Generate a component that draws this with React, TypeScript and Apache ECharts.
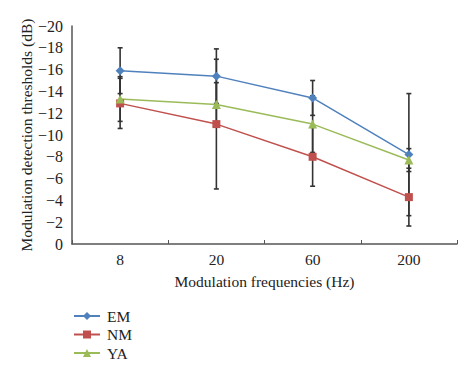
import React, { useEffect, useRef } from "react";
import * as echarts from "echarts";

const categories = ["8", "20", "60", "200"];
const emValues = [-15.9, -15.4, -13.4, -8.2];
const nmValues = [-12.9, -11.0, -8.0, -4.3];
const yaValues = [-13.3, -12.8, -11.0, -7.7];
const emErr = [2.1, 2.5, 1.6, 5.6];
const nmErr = [2.3, 5.95, 2.7, 2.65];
const yaErr = [2.05, 2.0, 2.6, 1.05];

const FONT = "Liberation Serif";

function errData(vals: number[], errs: number[]) {
  return vals.map((v, i) => [i, v - errs[i], v + errs[i]]);
}

export default function App() {
  const ref = useRef<HTMLDivElement>(null);
  useEffect(() => {
    if (!ref.current) return;
    const chart = echarts.init(ref.current, undefined, { renderer: "svg" });
    const errSeries = (name: string, vals: number[], errs: number[]) => ({
      type: "custom",
      name: name + "_err",
      z: 1,
      silent: true,
      data: errData(vals, errs),
      renderItem: (params: any, api: any) => {
        const x = api.value(0);
        const lo = api.coord([x, api.value(1)]);
        const hi = api.coord([x, api.value(2)]);
        const cw = 2.5;
        const style = { stroke: "#333", lineWidth: 1.6 };
        return {
          type: "group",
          children: [
            { type: "line", shape: { x1: lo[0], y1: lo[1], x2: hi[0], y2: hi[1] }, style },
            { type: "line", shape: { x1: lo[0] - cw, y1: lo[1], x2: lo[0] + cw, y2: lo[1] }, style },
            { type: "line", shape: { x1: hi[0] - cw, y1: hi[1], x2: hi[0] + cw, y2: hi[1] }, style },
          ],
        };
      },
    });
    const lineSeries = (name: string, vals: number[], color: string, symbol: string, size: number) => ({
      type: "line",
      name,
      z: 3,
      data: vals,
      symbol,
      symbolSize: size,
      showSymbol: true,
      itemStyle: { color },
      lineStyle: { color, width: 1.5 },
    });
    chart.setOption({
      animation: false,
      textStyle: { fontFamily: FONT },
      grid: { left: 72, right: 17, top: 26, bottom: 136, containLabel: false },
      legend: {
        orient: "vertical",
        left: 68,
        top: 303,
        itemWidth: 26,
        itemHeight: 10,
        itemGap: 2.5,
        data: ["EM", "NM", "YA"],
        textStyle: { fontFamily: FONT, fontSize: 15.5, color: "#222", padding: [0, 0, 0, 2] },
      },
      xAxis: {
        type: "category",
        data: categories,
        boundaryGap: true,
        name: "Modulation frequencies (Hz)",
        nameLocation: "middle",
        nameGap: 29,
        nameTextStyle: { fontFamily: FONT, fontSize: 15.5, color: "#222" },
        axisLine: { lineStyle: { color: "#555", width: 1.5 } },
        axisTick: { show: true, inside: true, length: 4, lineStyle: { color: "#555" } },
        axisLabel: { fontFamily: FONT, fontSize: 15.5, color: "#222", margin: 7 },
        splitLine: { show: false },
      },
      yAxis: {
        type: "value",
        min: -20,
        max: 0,
        interval: 2,
        inverse: true,
        name: "Modulation detection thresholds (dB)",
        nameLocation: "middle",
        nameGap: 38,
        nameMoveOverlap: false,
        nameRotate: 90,
        nameTextStyle: { fontFamily: FONT, fontSize: 15.5, color: "#222" },
        axisLine: { show: true, lineStyle: { color: "#555", width: 1.5 } },
        axisTick: { show: false },
        axisLabel: {
          fontFamily: FONT,
          fontSize: 16,
          color: "#222",
          margin: 9,
          formatter: (v: number) => String(v).replace("-", "\u2212"),
        },
        splitLine: { show: false },
      },
      series: [
        errSeries("EM", emValues, emErr),
        errSeries("NM", nmValues, nmErr),
        errSeries("YA", yaValues, yaErr),
        lineSeries("EM", emValues, "#4f81bd", "diamond", 9),
        lineSeries("NM", nmValues, "#c0504d", "rect", 8),
        lineSeries("YA", yaValues, "#9bbb59", "triangle", 9),
      ],
    });
    return () => chart.dispose();
  }, []);
  return (
    <div
      ref={ref}
      style={{ position: "fixed", left: 0, top: 0, width: 474, height: 380, background: "#fff" }}
    />
  );
}
